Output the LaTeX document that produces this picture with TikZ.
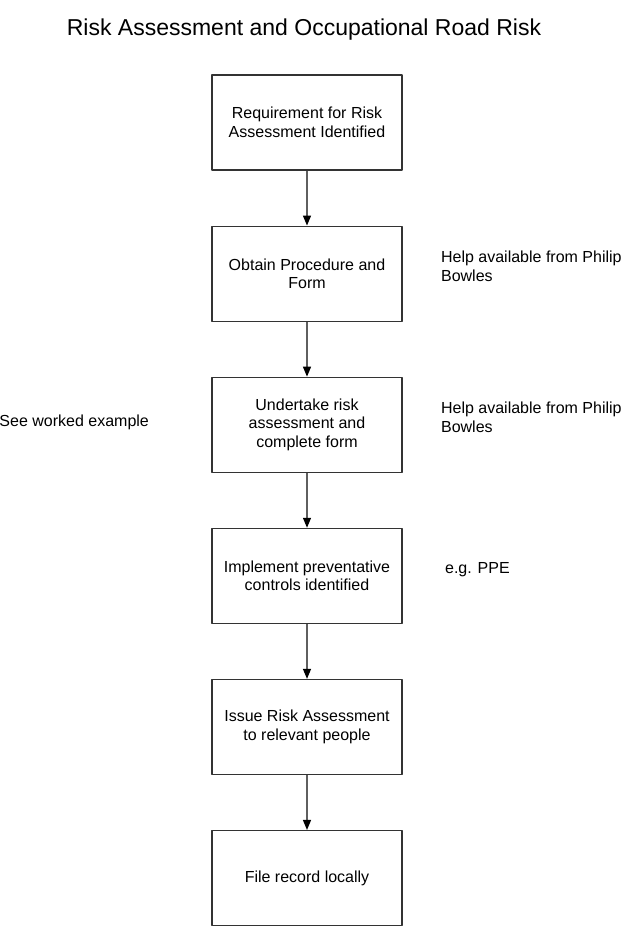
\documentclass[tikz,border=0pt]{standalone}
\usepackage{fontspec}
\setmainfont{Liberation Sans}
\usetikzlibrary{shapes, positioning, arrows.meta}
\definecolor{bgray}{HTML}{333333}
\definecolor{lgray}{HTML}{5F5F5F}

\begin{document}
\begin{tikzpicture}[x=1pt, y=-1pt, line join=bevel, line width=1.1pt,
  stepbox/.style={draw=bgray, minimum width=190pt, minimum height=95pt, align=center, inner sep=0pt, font=\fontsize{16}{18.5}\selectfont},
  note/.style={align=left, inner sep=0pt, font=\fontsize{16}{19.5}\selectfont},
  flow/.style={draw=lgray, line width=1.3pt, -{Triangle[length=10pt, width=8pt, color=black, fill=black]}}]

\useasboundingbox (0,0) rectangle (623,927);

\node[anchor=base, font=\fontsize{23}{27}\selectfont] (title) at (304,35) {Risk Assessment and Occupational Road Risk};

% steps
\node[stepbox] (req) at (307,122.5) {Requirement for Risk\\Assessment Identified};
\node[stepbox, below=55pt of req] (proc) {Obtain Procedure and\\Form};
\node[stepbox, below=55pt of proc] (task) {Undertake risk\\assessment and\\complete form};
\node[stepbox, below=55pt of task] (ctrl) {Implement preventative\\controls identified};
\node[stepbox, below=55pt of ctrl] (issue) {Issue Risk Assessment\\to relevant people};
\node[stepbox, below=55pt of issue] (file) {File record locally};

% side notes
\node[note, right=38pt of proc, yshift=7.5pt] (help1) {Help available from Philip\\Bowles};
\node[note, right=38pt of task, yshift=7.5pt] (help2) {Help available from Philip\\Bowles};
\node[note, left=62pt of task, yshift=2.5pt] (example) {See worked example};
\node[note, right=42pt of ctrl, yshift=6.5pt] (ppe) {e.g. PPE};

\draw[flow] (req) -- (proc);
\draw[flow] (proc) -- (task);
\draw[flow] (task) -- (ctrl);
\draw[flow] (ctrl) -- (issue);
\draw[flow] (issue) -- (file);

\end{tikzpicture}
\end{document}
